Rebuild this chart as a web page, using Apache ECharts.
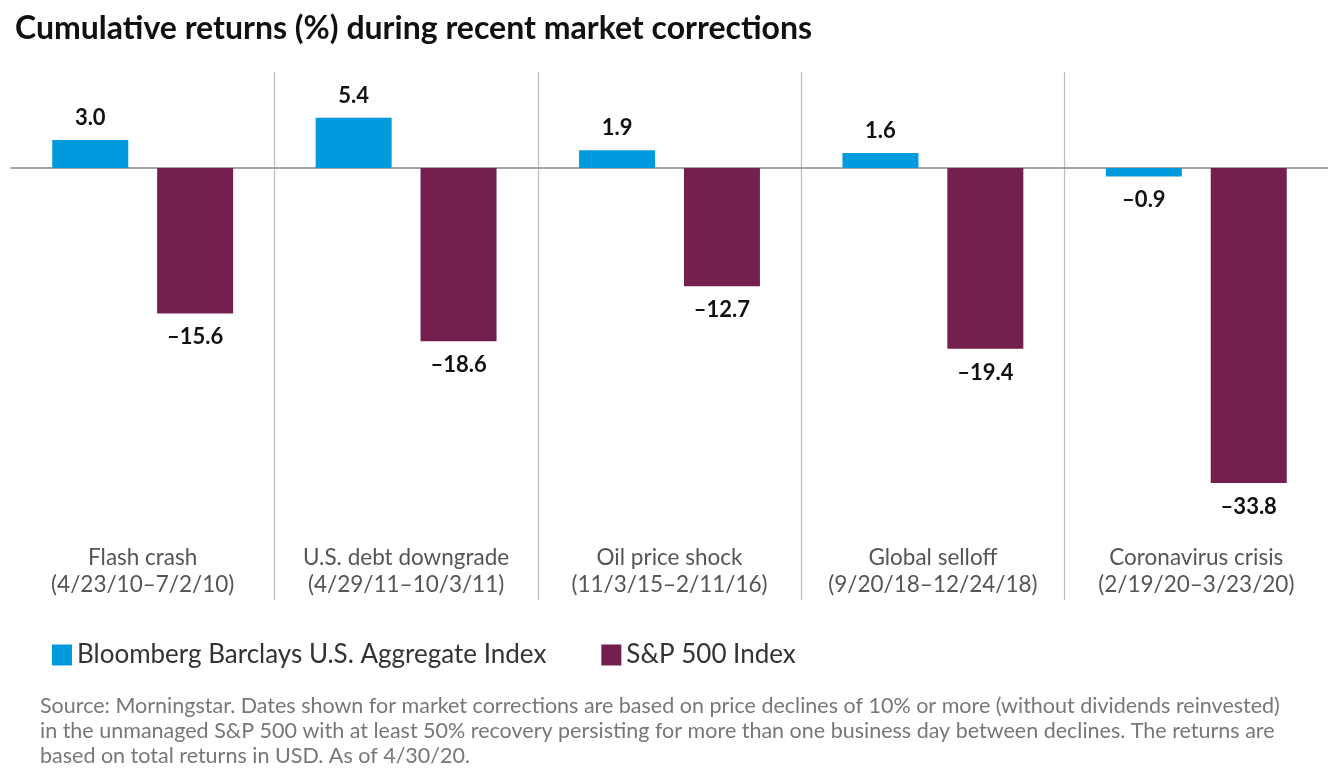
<!DOCTYPE html>
<html><head><meta charset="utf-8">
<script src="https://cdn.jsdelivr.net/npm/echarts@6/dist/echarts.min.js"></script>
<style>html,body{margin:0;padding:0;background:#fff}#c{width:1328px;height:773px}</style>
</head><body><div id="c"></div>
<script>
const categories = ['Flash crash\n(4/23/10–7/2/10)', 'U.S. debt downgrade\n(4/29/11–10/3/11)', 'Oil price shock\n(11/3/15–2/11/16)', 'Global selloff\n(9/20/18–12/24/18)', 'Coronavirus crisis\n(2/19/20–3/23/20)'];
const bondValues = [3.0, 5.4, 1.9, 1.6, -0.9];
const stockValues = [-15.6, -18.6, -12.7, -19.4, -33.8];
const seriesNames = ['Bloomberg Barclays U.S. Aggregate Index', 'S&P 500 Index'];
const titleText = 'Cumulative returns (%) during recent market corrections';
const footnote = 'Source: Morningstar. Dates shown for market corrections are based on price declines of 10% or more (without dividends reinvested)\nin the unmanaged S&P 500 with at least 50% recovery persisting for more than one business day between declines. The returns are\nbased on total returns in USD. As of 4/30/20.';

const FONT = 'Lato, "Open Sans", sans-serif';
const fmt = p => (p.value < 0 ? '–' + Math.abs(p.value).toFixed(1) : p.value.toFixed(1));
function lbl(v){ return {show:true, position: v < 0 ? 'bottom' : 'top', distance: v < 0 ? 13 : 11, formatter: fmt, color:'#111', fontSize:22, fontWeight:'bold', fontFamily:FONT}; }

const chart = echarts.init(document.getElementById('c'), null, {renderer:'canvas'});
chart.setOption({
  animation:false,
  backgroundColor:'#fff',
  title:[
    {text:titleText, left:10, top:8, textStyle:{fontFamily:FONT, fontSize:32, fontWeight:'bold', color:'#111'}},
    {text:footnote, left:35, top:689, textStyle:{fontFamily:FONT, fontSize:21.5, fontWeight:'normal', color:'#777', lineHeight:25}}
  ],
  legend:{
    left:47, top:637, itemWidth:20, itemHeight:21, itemGap:55, icon:'rect',
    textStyle:{fontFamily:FONT, fontSize:26, color:'#333', padding:[0,0,0,0]},
    data:seriesNames
  },
  grid:{left:11, right:0, top:72, bottom:173, outerBoundsMode:'none', containLabel:false},
  xAxis:{
    type:'category', data:categories,
    axisLine:{show:true, onZero:true, lineStyle:{color:'#888', width:1.5}},
    axisTick:{show:false},
    axisLabel:{interval:0, margin:-56, color:'#555', fontSize:22.5, lineHeight:27, fontFamily:FONT},
    splitLine:{show:true, interval:0, showMinLine:false, showMaxLine:false, lineStyle:{color:'#bbb', width:1.2}}
  },
  yAxis:{type:'value', min:-46.35, max:10.3, show:false, splitLine:{show:false}},
  series:[
    {name:seriesNames[0], type:'bar', barWidth:76, barGap:'38%', itemStyle:{color:'#009ADE'},
     data: bondValues.map(v=>({value:v, label:lbl(v)}))},
    {name:seriesNames[1], type:'bar', barWidth:76, barGap:'38%', itemStyle:{color:'#74204F'},
     data: stockValues.map(v=>({value:v, label:lbl(v)}))}
  ]
});
</script></body></html>
